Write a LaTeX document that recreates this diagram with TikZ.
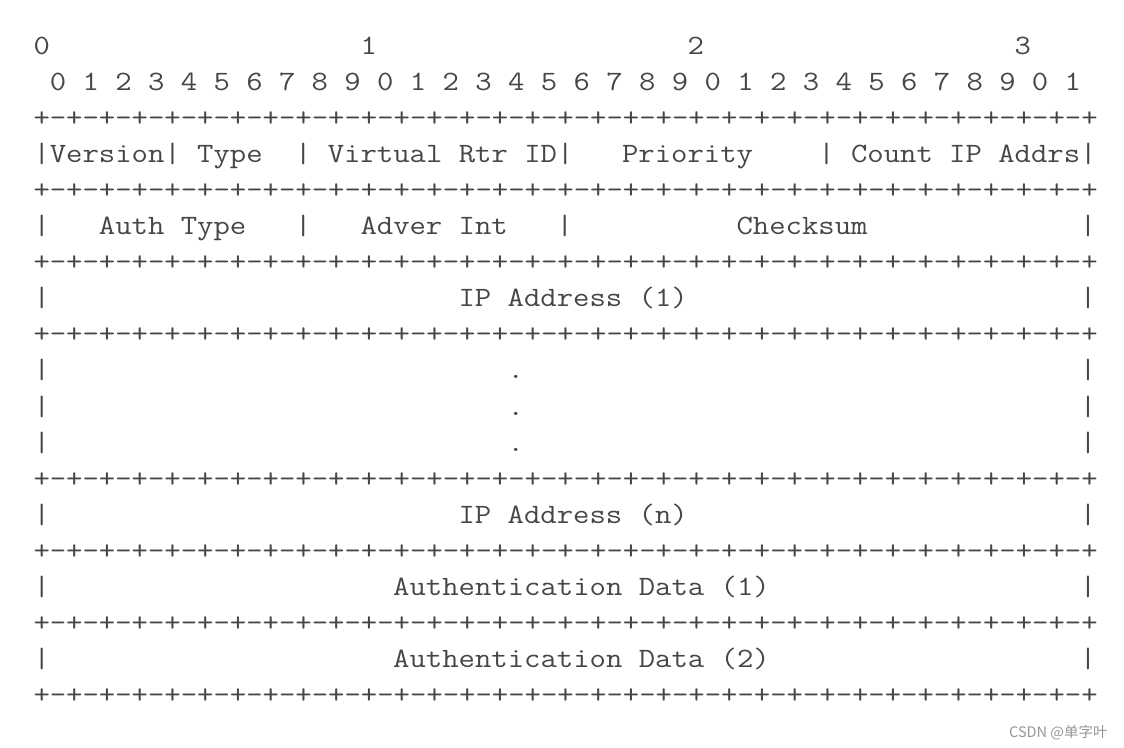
\documentclass[tikz,border=0pt]{standalone}
\usepackage{fontspec}
\newfontfamily\cjkfont{Noto Sans CJK SC}
\definecolor{ink}{RGB}{70,70,70}
\definecolor{wm}{RGB}{150,150,150}
\newcommand\mono[1]{\scalebox{1.1354}[1]{#1}}
\newcommand\qq{+-+-+-+-}
\newcommand\bord{\qq\qq\qq\qq\qq\qq\qq\qq+}
\tikzset{seg/.style={anchor=base west, inner sep=0pt, outer sep=0pt, text=ink,
  font=\ttfamily\fontsize{28}{34}\selectfont}}
% #1 name, #2 column, #3 row, #4 text
\newcommand\seg[4]{\node[seg] (#1) at ({33.5+16.35*#2},{-54-36.1*#3}) {\mono{#4}};}
\begin{document}
\begin{tikzpicture}[x=1pt,y=1pt]
\useasboundingbox (0,0) rectangle (1124,-747);
% header
\seg{h0}{0}{0}{0}
\seg{h1}{20}{0}{1}
\seg{h2}{40}{0}{2}
\seg{h3}{60}{0}{3}
\seg{bits}{1}{1}{0 1 2 3 4 5 6 7 8 9 0 1 2 3 4 5 6 7 8 9 0 1 2 3 4 5 6 7 8 9 0 1}
% borders
\seg{b2}{0}{2}{\bord}
\seg{b4}{0}{4}{\bord}
\seg{b6}{0}{6}{\bord}
\seg{b8}{0}{8}{\bord}
\seg{b12}{0}{12}{\bord}
\seg{b14}{0}{14}{\bord}
\seg{b16}{0}{16}{\bord}
\seg{b18}{0}{18}{\bord}
% row 3
\seg{verA}{0}{3}{|Version| Type}
\seg{verB}{16}{3}{|}
\seg{verC}{18}{3}{Virtual Rtr ID|}
\seg{verD}{36}{3}{Priority}
\seg{verE}{48}{3}{|}
\seg{verF}{50}{3}{Count IP Addrs|}
% row 5
\seg{auA}{0}{5}{|}
\seg{auB}{4}{5}{Auth Type}
\seg{auC}{16}{5}{|}
\seg{auD}{20}{5}{Adver Int}
\seg{auE}{32}{5}{|}
\seg{auF}{43}{5}{Checksum}
\seg{auG}{64}{5}{|}
% row 7
\seg{ip1A}{0}{7}{|}
\seg{ip1B}{26}{7}{IP Address (1)}
\seg{ip1C}{64}{7}{|}
% dots
\seg{d9A}{0}{9}{|}
\seg{d9B}{29}{9}{.}
\seg{d9C}{64}{9}{|}
\seg{d10A}{0}{10}{|}
\seg{d10B}{29}{10}{.}
\seg{d10C}{64}{10}{|}
\seg{d11A}{0}{11}{|}
\seg{d11B}{29}{11}{.}
\seg{d11C}{64}{11}{|}
% row 13
\seg{ipnA}{0}{13}{|}
\seg{ipnB}{26}{13}{IP Address (n)}
\seg{ipnC}{64}{13}{|}
% row 15
\seg{ad1A}{0}{15}{|}
\seg{ad1B}{22}{15}{Authentication Data (1)}
\seg{ad1C}{64}{15}{|}
% row 17
\seg{ad2A}{0}{17}{|}
\seg{ad2B}{22}{17}{Authentication Data (2)}
\seg{ad2C}{64}{17}{|}
% watermark
\node[anchor=base west, inner sep=0pt, text=wm, font=\cjkfont\fontsize{14.5}{16}\selectfont] (wmk) at (1009,-737) {CSDN @单字叶};
\end{tikzpicture}
\end{document}
